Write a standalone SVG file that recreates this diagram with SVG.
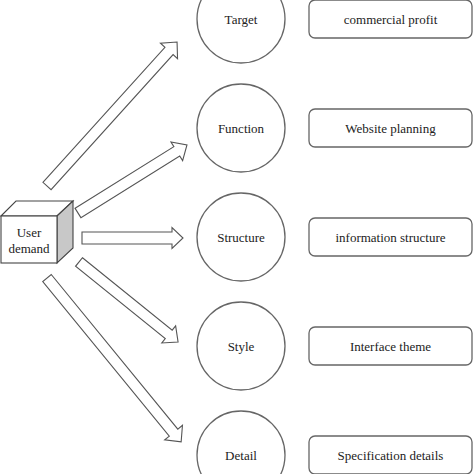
<svg xmlns="http://www.w3.org/2000/svg" width="474" height="474" viewBox="0 0 474 474">
<style>
.c{fill:#fff;stroke:#666;stroke-width:1.3}
.r{fill:#fff;stroke:#666;stroke-width:1.3}
.a{fill:#fff;stroke:#555;stroke-width:1.1;stroke-linejoin:miter}
.t{font-family:"Liberation Serif","Times New Roman",serif;font-size:13px;fill:#222;text-anchor:middle}
.cube{stroke:#444;stroke-width:1.1;stroke-linejoin:miter}
</style>
<rect width="474" height="474" fill="#fff"/>
<g id="connectors">
<polygon class="a" transform="translate(47,186) rotate(-47.9)" points="0,-5.5 182,-5.5 182,-11.5 194,0 182,11.5 182,5.5 0,5.5"/>
<polygon class="a" transform="translate(78,213) rotate(-32)" points="0,-5.5 116.5,-5.5 116.5,-11 128.5,0 116.5,11 116.5,5.5 0,5.5"/>
<polygon class="a" transform="translate(82,238) rotate(0)" points="0,-6 90,-6 90,-10.5 101,0 90,10.5 90,6 0,6"/>
<polygon class="a" transform="translate(79,262) rotate(38.9)" points="0,-5.5 115.3,-5.5 115.3,-11 127.3,0 115.3,11 115.3,5.5 0,5.5"/>
<polygon class="a" transform="translate(47,278) rotate(50.7)" points="0,-5.5 199.8,-5.5 199.8,-11.5 211.8,0 199.8,11.5 199.8,5.5 0,5.5"/>
</g>
<g id="user-demand">
<polygon class="cube" fill="#fff" points="1,216 16,201 73,201 57,216"/>
<polygon class="cube" fill="#c8c8c8" points="57,216 73,201 73,248 57,263"/>
<rect class="cube" fill="#fff" x="1" y="216" width="56" height="47"/>
<text class="t" x="29" y="237">User</text>
<text class="t" x="29" y="253">demand</text>
</g>
<g id="target"><circle class="c" cx="241" cy="19" r="44"/><text class="t" x="241" y="23.5">Target</text></g>
<g id="function"><circle class="c" cx="241" cy="128" r="44"/><text class="t" x="241" y="132.5">Function</text></g>
<g id="structure"><circle class="c" cx="241" cy="237" r="44"/><text class="t" x="241" y="241.5">Structure</text></g>
<g id="style"><circle class="c" cx="241" cy="346" r="44"/><text class="t" x="241" y="350.5">Style</text></g>
<g id="detail"><circle class="c" cx="241" cy="455" r="44"/><text class="t" x="241" y="459.5">Detail</text></g>
<g id="commercial-profit"><rect class="r" x="309" y="0" width="163" height="38" rx="6"/><text class="t" x="390.5" y="23.5">commercial profit</text></g>
<g id="website-planning"><rect class="r" x="309" y="109" width="163" height="38" rx="6"/><text class="t" x="390.5" y="132.5">Website planning</text></g>
<g id="information-structure"><rect class="r" x="309" y="218" width="163" height="38" rx="6"/><text class="t" x="390.5" y="241.5">information structure</text></g>
<g id="interface-theme"><rect class="r" x="309" y="327" width="163" height="38" rx="6"/><text class="t" x="390.5" y="350.5">Interface theme</text></g>
<g id="specification-details"><rect class="r" x="309" y="436" width="163" height="38" rx="6"/><text class="t" x="390.5" y="459.5">Specification details</text></g>
</svg>
